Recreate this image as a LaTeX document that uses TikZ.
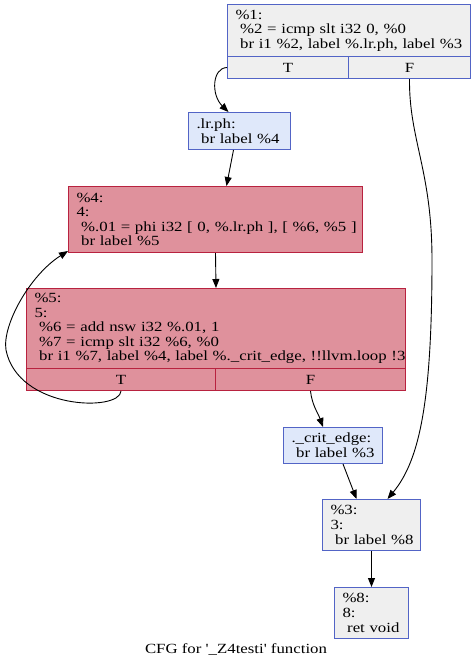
\documentclass[tikz,border=0pt]{standalone}
\usepackage{fontspec}
\setmainfont[FakeStretch=1.2,Ligatures=TeXOff]{Liberation Serif}
\usetikzlibrary{arrows.meta,calc}
\definecolor{grayfill}{HTML}{EFEFEF}
\definecolor{blueedge}{HTML}{5264C6}
\definecolor{bluefill}{HTML}{DFE8FA}
\definecolor{redfill}{HTML}{DF919C}
\definecolor{rededge}{HTML}{B8223F}
\newcommand\cfgline[1]{\mbox{#1}}
\tikzset{
  blk/.style={draw, line width=1pt, rectangle, anchor=north west, inner xsep=8pt, inner ysep=0pt, align=left, font=\fontsize{14}{14.6}\selectfont},
  grayblk/.style={blk, draw=blueedge, fill=grayfill},
  blueblk/.style={blk, draw=blueedge, fill=bluefill},
  redblk/.style={blk, draw=rededge, fill=redfill},
  edge/.style={-{Triangle[length=9pt,width=7pt]}, line width=0.9pt, black}
}
\begin{document}
\begin{tikzpicture}[x=1pt,y=-1pt]
\useasboundingbox (0,0) rectangle (474,665);
% blocks
\node[grayblk, text width=227pt, minimum height=52pt] (n1) at (227,4)
  {\cfgline{\%1:}\\\cfgline{\ \%2 = icmp slt i32 0, \%0}\\\cfgline{\ br i1 \%2, label \%.lr.ph, label \%3}};
\node[grayblk, align=center, text width=105pt, minimum height=22pt] (n1T) at (227,56) {T};
\node[grayblk, align=center, text width=106pt, minimum height=22pt] (n1F) at (348,56) {F};
\node[blueblk, text width=86pt, minimum height=37pt] (lrph) at (188,112)
  {\cfgline{.lr.ph:}\\\cfgline{\ br label \%4}};
\node[redblk, text width=278pt, minimum height=66pt] (n4) at (68,186)
  {\cfgline{\%4:}\\\cfgline{4:}\\\cfgline{\ \%.01 = phi i32 [ 0, \%.lr.ph ], [ \%6, \%5 ]}\\\cfgline{\ br label \%5}};
\node[redblk, text width=363pt, minimum height=80pt] (n5) at (26,288)
  {\cfgline{\%5:}\\\cfgline{5:}\\\cfgline{\ \%6 = add nsw i32 \%.01, 1}\\\cfgline{\ \%7 = icmp slt i32 \%6, \%0}\\\cfgline{\ br i1 \%7, label \%4, label \%.\_crit\_edge, !!llvm.loop !3}};
\node[redblk, align=center, text width=173pt, minimum height=22pt] (n5T) at (26,368) {T};
\node[redblk, align=center, text width=174pt, minimum height=22pt] (n5F) at (215,368) {F};
\node[blueblk, text width=83pt, minimum height=36pt] (crit) at (283,427)
  {\cfgline{.\_crit\_edge:}\\\cfgline{\ br label \%3}};
\node[grayblk, text width=82pt, minimum height=51pt] (n3) at (322,499)
  {\cfgline{\%3:}\\\cfgline{3:}\\\cfgline{\ br label \%8}};
\node[grayblk, text width=58pt, minimum height=51pt] (n8) at (334,587)
  {\cfgline{\%8:}\\\cfgline{8:}\\\cfgline{\ ret void}};
\node[font=\fontsize{14}{14.6}\selectfont] (cap) at (236,649) {CFG for '\_Z4testi' function};
% edges
\draw[edge] (n1T.west) .. controls (212,68) and (211,95) .. ([xshift=-11pt]lrph.north);
\draw[edge] (n1F.south) .. controls (409,140) and (432,170) .. (432,260) .. controls (432,400) and (420,460) .. ([xshift=16pt]n3.north);
\draw[edge] ([xshift=-6pt]lrph.south) -- ([xshift=11pt]n4.north);
\draw[edge] (n4.south) -- (n5.north);
\draw[edge] (n5T.south) .. controls (120,412) and (18,410) .. (6,350) .. controls (2,325) and (30,275) .. ([yshift=2pt]n4.south west);
\draw[edge] (n5F.south) .. controls (312,405) and (318,413) .. ([xshift=-10pt]crit.north);
\draw[edge] ([xshift=10pt]crit.south) -- ([xshift=-15pt]n3.north);
\draw[edge] (n3.south) -- (n8.north);
\end{tikzpicture}
\end{document}
